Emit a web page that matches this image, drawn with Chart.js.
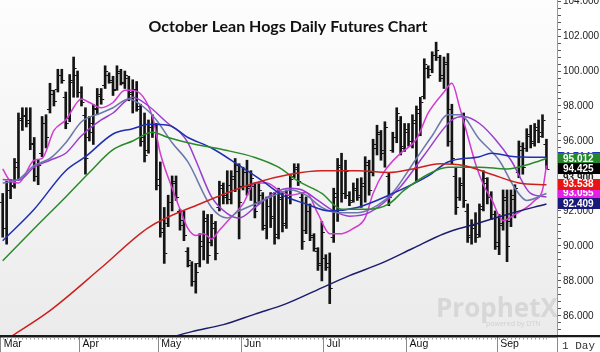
<!DOCTYPE html>
<html>
<head>
<meta charset="utf-8">
<title>October Lean Hogs Daily Futures Chart</title>
<script src="https://cdn.jsdelivr.net/npm/chart.js@4.4.1/dist/chart.umd.min.js"></script>
<style>
  html, body { margin: 0; padding: 0; background: #fff; }
  canvas { display: block; }
</style>
</head>
<body>
<canvas id="graficoCerdos" width="600" height="352"></canvas>
<script>
const titulo = 'October Lean Hogs Daily Futures Chart';

// meses del eje x y la barra (dia de negociacion) en que empieza cada uno
const meses = ['Mar', 'Apr', 'May', 'Jun', 'Jul', 'Aug', 'Sep'];
const inicioMes = [0, 20, 40, 61, 82, 103, 126];
const yTicks = [86, 88, 90, 92, 94, 96, 98, 100, 102, 104];

// barras diarias OHLC
const aperturas = [
  92.5, 91.0, 93.2, 93.5, 94.5, 97.3, 97.4, 97.2, 95.9, 94.0,
  95.3, 97.0, 97.8, 98.7, 99.0, 99.8, 98.5, 97.3, 99.4, 99.8,
  98.8, 97.5, 96.2, 96.5, 97.9, 98.6, 99.2, 99.8, 99.4, 99.0,
  99.9, 99.3, 99.6, 98.8, 99.0, 97.8, 96.2, 95.5, 96.8, 96.5,
  93.8, 90.8, 91.3, 92.5, 93.6, 92.0, 91.5, 89.7, 88.9, 88.0,
  89.0, 90.0, 91.4, 90.2, 91.0, 92.2, 93.3, 92.9, 92.7, 93.8,
  94.3, 93.4, 94.2, 93.4, 93.4, 92.5, 92.9, 91.0, 92.3, 91.7,
  90.7, 92.7, 91.3, 92.8, 94.0, 94.4, 92.8, 90.9, 92.0, 90.5,
  89.7, 89.0, 89.3, 88.8, 90.5, 92.8, 94.5, 93.0, 92.9, 92.6,
  93.2, 92.8, 93.4, 94.6, 94.2, 95.6, 96.4, 95.5, 94.0, 95.5,
  96.2, 97.2, 95.7, 96.5, 96.0, 97.0, 97.6, 98.6, 100.2, 100.1,
  100.9, 100.8, 99.6, 100.5, 97.8, 94.0, 92.8, 93.5, 92.0, 90.5,
  91.0, 90.7, 92.3, 93.6, 92.8, 91.6, 90.0, 91.2, 92.6, 91.4,
  92.7, 94.2, 95.5, 95.6, 96.3, 96.0, 96.6, 96.5, 95.8
];
const maximos = [
  93.0, 93.7, 93.8, 95.0, 97.6, 97.9, 97.9, 97.9, 96.2, 94.9,
  97.4, 97.5, 99.3, 98.9, 100.1, 100.1, 98.8, 99.8, 100.8, 100.0,
  99.1, 97.9, 97.4, 98.1, 99.0, 99.0, 100.3, 99.9, 99.7, 100.3,
  100.1, 100.0, 99.7, 99.5, 99.4, 98.1, 97.6, 97.2, 97.5, 97.0,
  94.8, 92.2, 92.9, 94.0, 94.0, 92.1, 92.0, 89.9, 89.1, 89.0,
  90.7, 92.0, 91.8, 91.8, 91.4, 93.7, 93.6, 94.3, 94.3, 95.0,
  94.7, 94.5, 94.9, 94.3, 93.6, 93.6, 93.05, 92.8, 93.05, 93.05,
  93.3, 93.05, 93.2, 94.1, 94.7, 94.7, 93.05, 92.8, 92.4, 90.7,
  89.9, 91.4, 89.5, 89.6, 93.3, 95.0, 95.3, 94.9, 93.1, 93.6,
  93.85, 93.9, 95.1, 94.9, 96.1, 96.9, 96.6, 97.1, 94.2, 96.5,
  97.9, 97.4, 97.0, 97.0, 97.5, 98.0, 98.5, 100.7, 100.3, 101.1,
  101.65, 100.9, 100.8, 101.0, 98.1, 94.5, 93.9, 97.6, 92.4, 91.5,
  91.9, 92.4, 94.3, 93.9, 93.1, 92.0, 91.8, 93.2, 93.2, 93.2,
  93.5, 96.0, 95.9, 96.7, 96.9, 97.0, 97.2, 97.5, 96.1
];
const minimos = [
  90.5, 90.1, 92.7, 93.3, 93.8, 96.6, 96.8, 95.5, 93.7, 93.5,
  95.1, 95.6, 97.6, 98.0, 98.8, 99.3, 96.7, 97.1, 98.5, 98.5,
  98.0, 94.1, 96.0, 95.8, 97.5, 98.1, 99.0, 99.3, 98.6, 98.9,
  99.2, 99.0, 98.3, 97.6, 97.7, 95.7, 94.8, 95.3, 96.2, 93.2,
  90.5, 89.0, 91.1, 92.0, 92.6, 90.9, 90.3, 88.8, 87.7, 87.3,
  88.8, 89.2, 89.0, 90.0, 89.2, 92.0, 92.4, 92.4, 92.4, 93.1,
  90.4, 93.2, 92.9, 92.6, 91.6, 92.4, 90.9, 90.4, 91.05, 90.1,
  90.4, 90.8, 91.0, 92.4, 93.9, 93.45, 89.8, 90.7, 90.3, 89.7,
  88.6, 88.0, 88.6, 86.7, 90.2, 91.4, 92.5, 92.7, 92.3, 92.5,
  92.6, 92.2, 92.5, 92.9, 94.0, 95.2, 94.9, 94.5, 92.3, 95.35,
  95.9, 95.2, 95.4, 95.7, 95.6, 93.7, 96.3, 98.4, 99.6, 99.9,
  100.6, 99.4, 99.0, 95.7, 94.7, 91.8, 92.6, 92.2, 90.2, 90.1,
  90.2, 90.5, 92.0, 92.4, 91.5, 89.8, 89.5, 90.9, 89.1, 91.1,
  91.6, 93.9, 94.1, 95.4, 95.6, 95.7, 95.9, 96.2, 94.4
];
const cierres = [
  91.0, 93.2, 93.4, 94.8, 97.2, 97.5, 97.0, 95.8, 94.0, 94.6,
  97.0, 96.2, 98.9, 98.3, 99.8, 99.5, 97.0, 99.5, 100.2, 98.8,
  98.2, 95.0, 97.0, 97.8, 98.7, 98.4, 100.0, 99.5, 98.9, 100.0,
  99.4, 99.8, 98.7, 99.0, 98.0, 96.0, 95.2, 96.8, 96.5, 93.5,
  91.0, 89.6, 92.5, 93.7, 92.8, 91.2, 90.6, 89.2, 88.0, 88.5,
  90.3, 91.6, 89.5, 91.3, 89.6, 93.5, 92.8, 93.5, 94.0, 94.6,
  92.5, 94.2, 93.3, 93.9, 92.0, 93.2, 91.2, 92.3, 91.6, 90.5,
  92.8, 91.2, 92.9, 93.8, 94.5, 93.7, 90.3, 92.4, 90.6, 89.9,
  88.9, 90.8, 89.0, 87.6, 93.0, 94.6, 93.0, 94.3, 92.5, 93.3,
  92.9, 93.6, 94.8, 93.2, 95.8, 96.5, 95.3, 96.8, 92.8, 96.2,
  97.6, 95.6, 96.7, 96.0, 97.2, 97.8, 98.2, 100.4, 99.8, 100.9,
  101.2, 99.8, 100.4, 96.0, 95.0, 92.2, 93.6, 92.6, 90.6, 91.2,
  90.5, 92.1, 93.9, 92.8, 91.8, 90.2, 91.3, 92.8, 90.0, 92.9,
  93.3, 95.7, 94.5, 96.4, 95.9, 96.8, 96.3, 97.2, 94.425
];

// medias moviles: dia de la barra y valor
const mediaRosaDias = [0, 2, 4, 8, 10, 13, 16, 20, 22, 25, 28, 31, 33, 38, 40, 43, 45, 47, 49, 51,
  53, 55, 57, 61, 64, 67, 70, 73, 77, 80, 83, 86, 89, 92, 94, 97, 101, 105, 108, 112,
  114, 116, 118, 120, 122, 124, 127, 130, 133, 135, 137, 138];
const mediaRosa = [94.4, 93.7, 93.6, 94.9, 95.0, 96.6, 97.2, 98.4, 98.2, 97.9, 98.2, 98.9, 98.9, 97.4, 95.3, 93.3, 92.1, 91.0, 90.6, 90.7,
  90.4, 90.9, 91.4, 92.4, 93.6, 93.6, 93.2, 92.9, 93.05, 91.85, 90.7, 90.7, 91.0, 91.6, 93.0, 94.3, 95.3, 96.1, 97.6, 98.8,
  99.3, 97.9, 96.3, 94.7, 93.5, 92.7, 91.45, 91.8, 92.2, 92.6, 93.2, 94.6];

const mediaVioletaDias = [0, 4, 8, 12, 16, 20, 25, 28, 33, 37, 42, 45, 47, 49, 53, 57, 60, 64, 69, 73,
  76, 80, 84, 88, 93, 101, 107, 114, 117, 121, 125, 129, 134, 138];
const mediaVioleta = [93.8, 93.75, 94.5, 94.9, 95.3, 96.3, 97.2, 97.6, 98.5, 98.0, 97.0, 96.5, 95.9, 94.9, 92.8, 91.85, 91.6, 92.2, 93.05, 93.3,
  93.2, 92.6, 92.0, 91.7, 91.9, 93.4, 95.2, 97.2, 97.4, 97.0, 96.1, 94.9, 93.0, 92.8];

const mediaGrisDias = [0, 4, 8, 12, 16, 20, 25, 28, 32, 36, 39, 43, 47, 53, 57, 60, 64, 69, 73, 77,
  81, 85, 90, 95, 99, 105, 109, 113, 116, 121, 126, 130, 133, 138];
const mediaGris = [93.6, 93.8, 94.6, 95.0, 95.9, 97.1, 97.6, 97.9, 98.4, 97.9, 97.2, 95.9, 94.8, 92.2, 91.6, 92.0, 92.4, 92.9, 93.2, 92.9,
  92.2, 91.9, 91.9, 92.3, 93.05, 95.0, 96.3, 97.5, 97.5, 96.1, 94.9, 93.3, 92.6, 93.0];

const mediaAzulDias = [0, 8, 16, 21, 28, 33, 37, 42, 47, 53, 60, 66, 71, 77, 83, 90, 98, 108, 113, 121, 124, 130, 138];
const mediaAzul = [90.3, 92.1, 94.3, 95.1, 96.4, 96.7, 96.95, 96.9, 96.2, 95.6, 94.6, 93.7, 92.9, 92.4, 92.0, 92.2, 92.9, 94.0, 94.8, 95.1, 95.3, 95.1, 95.07];

const mediaVerdeDias = [0, 8, 16, 22, 28, 33, 38, 42, 47, 56, 64, 70, 75, 81, 86, 93, 98, 102, 108, 113, 121, 128, 134, 138];
const mediaVerde = [89.15, 91.0, 92.8, 94.2, 95.5, 96.0, 96.5, 96.2, 95.9, 95.5, 95.06, 94.5, 93.7, 93.0, 92.1, 92.1, 92.4, 93.2, 94.1, 94.5, 94.5, 94.4, 94.7, 95.0];

const mediaRojaDias = [2, 12, 25, 37, 50, 64, 73, 81, 90, 98, 104, 111, 117, 124, 131, 138];
const mediaRoja = [84.8, 86.3, 88.75, 91.05, 92.4, 93.6, 94.1, 94.3, 94.3, 94.2, 94.4, 94.7, 94.6, 94.1, 93.6, 93.5];

const mediaMarinoDias = [40, 48, 56, 64, 72, 80, 88, 96, 104, 112, 120, 128, 138];
const mediaMarino = [84.6, 85.1, 85.5, 86.1, 86.7, 87.5, 88.3, 89.0, 89.85, 90.7, 91.25, 91.8, 92.4];

// etiquetas de ultimo valor en el eje derecho (en orden de dibujo)
const ultimosValores = [95.07, 95.012, 93.9, 94.425, 93.055, 93.538, 92.409];
const ultimosColores = ['#1d33c4', '#22882a', '#f4f4f4', '#000000', '#e81ee8', '#e81414', '#1a1a78'];
const ultimosTexto = ['#fff', '#fff', '#222', '#fff', '#fff', '#fff', '#fff'];

function serie(dias, valores) {
  return dias.map((d, k) => ({ x: d, y: valores[k] }));
}

function lineaMedia(dias, valores, color) {
  return {
    type: 'line',
    data: serie(dias, valores),
    borderColor: color,
    borderWidth: 1.5,
    pointRadius: 0,
    fill: false,
    cubicInterpolationMode: 'monotone',
    order: 1
  };
}

const fondo = {
  id: 'fondo',
  beforeDraw(chart) {
    const { ctx, chartArea: a } = chart;
    ctx.save();
    ctx.fillStyle = '#fff';
    ctx.fillRect(0, 0, chart.width, chart.height);
    const g = ctx.createLinearGradient(0, a.top, 0, a.bottom);
    g.addColorStop(0, '#fdfdfd');
    g.addColorStop(1, '#ebebeb');
    ctx.fillStyle = g;
    ctx.fillRect(a.left, a.top, a.right - a.left, a.bottom - a.top);

    // marca de agua
    ctx.fillStyle = '#d7d7d7';
    ctx.font = 'bold 26px "Open Sans"';
    ctx.textBaseline = 'alphabetic';
    ctx.fillText('ProphetX', 436, 317);
    ctx.font = '7px "Open Sans"';
    ctx.fillStyle = '#d0d0d0';
    ctx.fillText('powered by DTN', 486, 326);
    ctx.restore();
  }
};

// marcas de apertura (izquierda) y cierre (derecha)
const marcasOC = {
  id: 'marcasOC',
  afterDatasetDraw(chart, args) {
    if (args.index !== 0) return;
    const { ctx, scales: { x, y } } = chart;
    ctx.save();
    ctx.strokeStyle = '#111';
    ctx.lineWidth = 1;
    ctx.beginPath();
    for (let i = 0; i < cierres.length; i++) {
      const px = x.getPixelForValue(i);
      const po = Math.round(y.getPixelForValue(aperturas[i])) + 0.5;
      const pc = Math.round(y.getPixelForValue(cierres[i])) + 0.5;
      ctx.moveTo(px - 3, po); ctx.lineTo(px - 1, po);
      ctx.moveTo(px + 1, pc); ctx.lineTo(px + 3, pc);
    }
    ctx.stroke();
    ctx.restore();
  }
};

const adornos = {
  id: 'adornos',
  afterDraw(chart) {
    const { ctx, chartArea: a, scales: { x, y } } = chart;
    ctx.save();

    // titulo dentro del area del grafico
    ctx.fillStyle = '#111';
    ctx.font = 'bold 16px Lato';
    ctx.textAlign = 'center';
    ctx.textBaseline = 'alphabetic';
    ctx.fillText(titulo, 288, 32);

    // linea base gruesa y marcas por barra
    ctx.fillStyle = '#1a1a1a';
    ctx.fillRect(0, a.bottom - 1, chart.width, 2.5);
    ctx.strokeStyle = '#9a9a9a';
    ctx.lineWidth = 1;
    ctx.beginPath();
    for (let i = 0; i < cierres.length; i++) {
      const px = Math.round(x.getPixelForValue(i)) + 0.5;
      ctx.moveTo(px, a.bottom + 1.5);
      ctx.lineTo(px, a.bottom + 3.5);
    }
    ctx.stroke();

    // etiquetas de ultimo valor
    ctx.textAlign = 'left';
    ctx.textBaseline = 'middle';
    ctx.font = 'bold 10px "Liberation Sans"';
    ultimosValores.forEach((v, k) => {
      const py = y.getPixelForValue(v);
      ctx.fillStyle = ultimosColores[k];
      ctx.fillRect(a.right + 1, Math.round(py - 5.5), chart.width - a.right - 1, 11);
      ctx.fillStyle = ultimosTexto[k];
      ctx.fillText(v.toFixed(3), a.right + 6, py + 0.5);
    });

    // caja "1 Day"
    ctx.fillStyle = '#fff';
    ctx.fillRect(a.right, a.bottom + 1.5, chart.width - a.right, chart.height - a.bottom);
    ctx.strokeStyle = '#8a8a8a';
    ctx.beginPath();
    ctx.moveTo(a.right + 0.5, a.bottom + 1);
    ctx.lineTo(a.right + 0.5, chart.height);
    ctx.stroke();
    ctx.fillStyle = '#333';
    ctx.font = '11px "Liberation Mono"';
    ctx.textBaseline = 'alphabetic';
    ctx.fillText('1 Day', a.right + 5, chart.height - 3);
    ctx.restore();
  }
};

const ctx = document.getElementById('graficoCerdos').getContext('2d');

window.chartCerdos = new Chart(ctx, {
  type: 'bar',
  data: {
    datasets: [
      {
        type: 'bar',
        data: maximos.map((h, i) => ({ x: i, y: [minimos[i], h] })),
        backgroundColor: '#141414',
        borderWidth: 0,
        barThickness: 2,
        grouped: false,
        order: 10
      },
      lineaMedia(mediaMarinoDias, mediaMarino, '#1c1c6e'),
      lineaMedia(mediaRojaDias, mediaRoja, '#cc2020'),
      lineaMedia(mediaVerdeDias, mediaVerde, '#2a8a2a'),
      lineaMedia(mediaAzulDias, mediaAzul, '#1f2fb0'),
      lineaMedia(mediaGrisDias, mediaGris, '#6a78aa'),
      lineaMedia(mediaVioletaDias, mediaVioleta, '#9a3cd0'),
      lineaMedia(mediaRosaDias, mediaRosa, '#d23ad2')
    ]
  },
  options: {
    responsive: false,
    animation: false,
    devicePixelRatio: 1,
    layout: { padding: 0 },
    plugins: {
      legend: { display: false },
      tooltip: { enabled: false },
      title: { display: false }
    },
    scales: {
      x: {
        type: 'linear',
        offset: false,
        min: -0.685,
        max: 140.68,
        afterBuildTicks(s) { s.ticks = inicioMes.map(m => ({ value: m - 0.5 })); },
        afterFit(s) { s.height = 16; s.paddingLeft = 0; s.paddingRight = 0; },
        ticks: {
          autoSkip: false,
          maxRotation: 0,
          align: 'start',
          labelOffset: 3,
          padding: -14,
          color: '#111',
          font: { family: 'Liberation Sans', size: 10.5 },
          callback: (v, i) => meses[i]
        },
        grid: { offset: false, drawOnChartArea: false, tickLength: 16, color: '#8a8a8a' },
        border: { display: false }
      },
      y: {
        position: 'right',
        min: 84.85,
        max: 104.06,
        afterBuildTicks(s) {
          const marcas = [];
          for (let k = 0; k < yTicks.length; k++) {
            for (let m = -4; m <= 0; m++) {
              const v = Math.round((yTicks[k] + m * 0.4) * 10) / 10;
              if (v > 84.85) marcas.push({ value: v });
            }
          }
          s.ticks = marcas;
        },
        afterFit(s) { s.width = 43; s.paddingTop = 0; s.paddingBottom = 0; },
        ticks: {
          autoSkip: false,
          padding: 2,
          color: '#222',
          font: { family: 'Liberation Sans', size: 10 },
          callback: v => (yTicks.includes(v) ? v.toFixed(3) : '')
        },
        grid: { drawOnChartArea: false, tickLength: 4, color: '#555' },
        border: { color: '#9a9a9a' }
      }
    }
  },
  plugins: [fondo, marcasOC, adornos]
});
</script>
</body>
</html>
